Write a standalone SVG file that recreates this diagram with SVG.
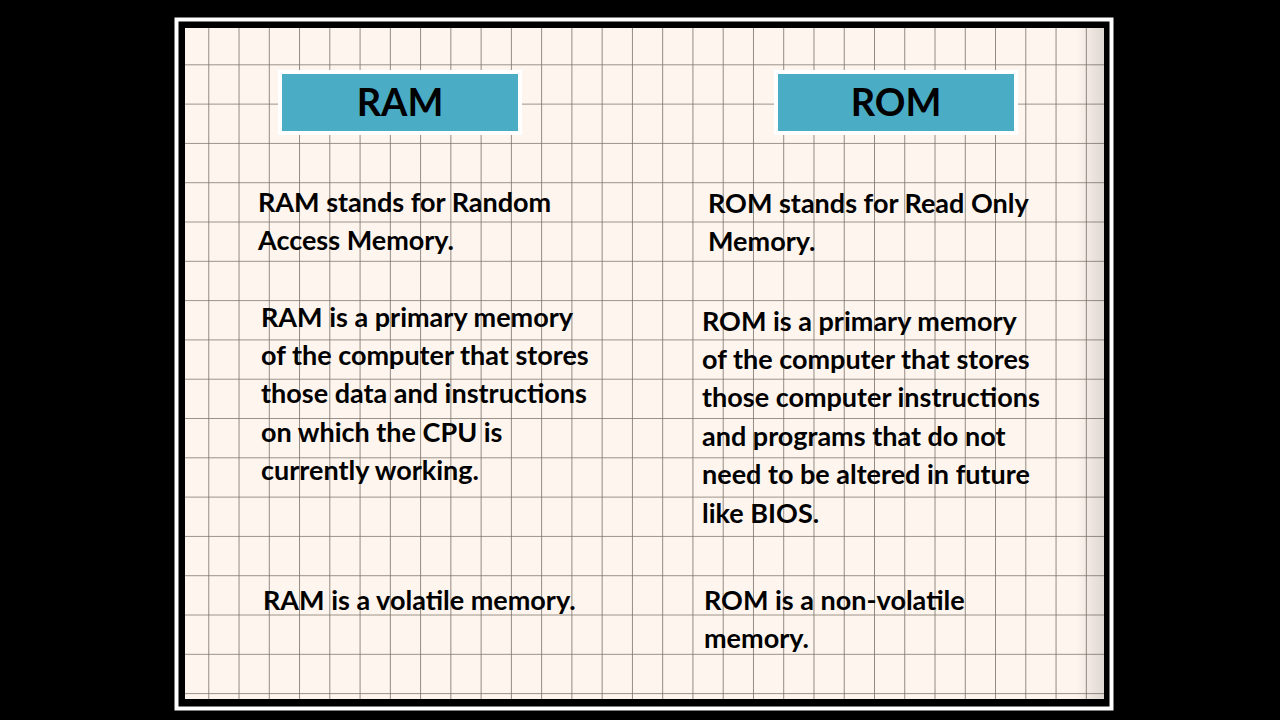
<svg xmlns="http://www.w3.org/2000/svg" width="1280" height="720" viewBox="0 0 1280 720">
<defs>
<pattern id="grid" x="179" y="26" width="30.26" height="39.3" patternUnits="userSpaceOnUse">
<path d="M30.26 0V39.3M0 39.3H30.26" fill="none" stroke="#7a7268" stroke-width="1.6"/>
</pattern>
<linearGradient id="sh" x1="0" x2="1"><stop offset="0.97" stop-color="#000" stop-opacity="0"/><stop offset="1" stop-color="#000" stop-opacity="0.12"/></linearGradient>
</defs>
<style>
.t{font-family:Lato,"Open Sans",sans-serif;font-weight:bold;font-size:27px;fill:#000}
.h{font-family:Lato,"Open Sans",sans-serif;font-weight:bold;font-size:38px;fill:#000}
.box{fill:#4BACC6;stroke:#fff;stroke-width:4}
</style>
<rect width="1280" height="720" fill="#000"/>
<rect x="176.5" y="19.5" width="935" height="689" fill="none" stroke="#fff" stroke-width="4"/>
<rect x="185" y="28" width="919" height="671" fill="#fdf5ee"/>
<rect x="185" y="28" width="919" height="671" fill="url(#grid)"/>
<rect x="185" y="28" width="919" height="671" fill="url(#sh)"/>
<g id="ram">
<rect class="box" x="280" y="72" width="240" height="61"/>
<text class="h" x="400" y="116" text-anchor="middle">RAM</text>
</g>
<g id="rom">
<rect class="box" x="776" y="72" width="240" height="61"/>
<text class="h" x="896" y="116" text-anchor="middle">ROM</text>
</g>
<g id="ram-text">
<text class="t" x="258" y="212">RAM stands for Random</text>
<text class="t" x="258" y="250">Access Memory.</text>
<text class="t" x="261" y="327">RAM is a primary memory</text>
<text class="t" x="261" y="365">of the computer that stores</text>
<text class="t" x="261" y="403">those data and instructions</text>
<text class="t" x="261" y="442">on which the CPU is</text>
<text class="t" x="261" y="480">currently working.</text>
<text class="t" x="263" y="610">RAM is a volatile memory.</text>
</g>
<g id="rom-text">
<text class="t" x="708" y="213">ROM stands for Read Only</text>
<text class="t" x="708" y="251">Memory.</text>
<text class="t" x="702" y="331">ROM is a primary memory</text>
<text class="t" x="702" y="369">of the computer that stores</text>
<text class="t" x="702" y="407">those computer instructions</text>
<text class="t" x="702" y="446">and programs that do not</text>
<text class="t" x="702" y="484">need to be altered in future</text>
<text class="t" x="702" y="523">like BIOS.</text>
<text class="t" x="704" y="610">ROM is a non-volatile</text>
<text class="t" x="704" y="648">memory.</text>
</g>
</svg>
